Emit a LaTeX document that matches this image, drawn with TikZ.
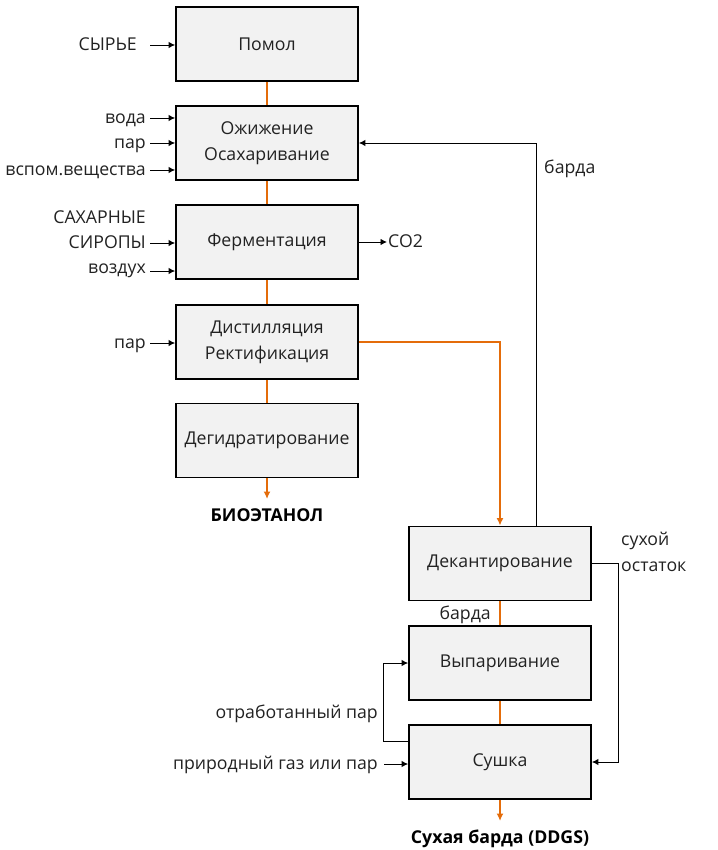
\documentclass[tikz,border=0pt]{standalone}
\usepackage{fontspec}
\setmainfont{Open Sans}
\usetikzlibrary{arrows.meta,calc}
\definecolor{orng}{RGB}{228,108,10}
\definecolor{boxfill}{RGB}{242,242,242}
\definecolor{txt}{RGB}{34,34,34}
\begin{document}
\begin{tikzpicture}[x=1pt,y=-1pt,
  font=\fontsize{17.7}{26}\selectfont, text=txt,
  proc/.style={draw=black, line width=1.8pt, fill=boxfill, minimum width=182pt,
    minimum height=74pt, align=center, inner sep=0pt},
  lab/.style={inner sep=0pt, text height=15pt, text depth=3.5pt},
  arr/.style={-{Latex[length=6.5pt,width=6.5pt]}, line width=0.9pt, draw=black},
  oline/.style={draw=orng, line width=1.8pt},
  oarr/.style={oline, -{Latex[length=7.5pt,width=7pt]}}]
\useasboundingbox (0,0) rectangle (717,850);

% process boxes
\node[proc] (pomol) at (267,44) {Помол};
\node[proc] (ozh) at (267,143) {Ожижение\\Осахаривание};
\node[proc] (ferm) at (267,242) {Ферментация};
\node[proc] (dist) at (267,342) {Дистилляция\\Ректификация};
\node[proc] (degid) at (267,440.5) {Дегидратирование};
\node[proc] (dek) at (500,563.5) {Декантирование};
\node[proc] (vyp) at (500,663) {Выпаривание};
\node[proc] (sush) at (500,762) {Сушка};

% left inputs
\node[lab, anchor=east] (syr) at (137,45) {СЫРЬЕ};
\node[lab, anchor=east] (voda) at (146,118) {вода};
\node[lab, anchor=east] (par1) at (146,143) {пар};
\node[lab, anchor=east] (vspom) at (146,170) {вспом.вещества};
\node[lab, anchor=east] (sah) at (146,218) {САХАРНЫЕ};
\node[lab, anchor=east] (sir) at (146,243) {СИРОПЫ};
\node[lab, anchor=east] (vozd) at (146,268) {воздух};
\node[lab, anchor=east] (par2) at (146,343) {пар};

\draw[arr] ([xshift=13pt]syr.east) -- (syr.east -| pomol.west);
\draw[arr] ([xshift=4pt]voda.east) -- (voda.east -| ozh.west);
\draw[arr] ([xshift=4pt]par1.east) -- (par1.east -| ozh.west);
\draw[arr] ([xshift=4pt]vspom.east) -- (vspom.east -| ozh.west);
\draw[arr] ([xshift=4pt]sir.east) -- (sir.east -| ferm.west);
\draw[arr] ([xshift=4pt,yshift=-3pt]vozd.east) -- ([yshift=-3pt]vozd.east -| ferm.west);
\draw[arr] ([xshift=4pt]par2.east) -- (par2.east -| dist.west);

% CO2
\node[lab, anchor=west] (co2) at (388,242) {CO2};
\draw[arr] (ferm.east) -- ([xshift=-1pt]co2.west);

% main orange flow
\draw[oline] (pomol.south) -- (ozh.north);
\draw[oline] (ozh.south) -- (ferm.north);
\draw[oline] (ferm.south) -- (dist.north);
\draw[oline] (dist.south) -- (degid.north);
\coordinate (bioend) at (267,499);
\draw[oarr] (degid.south) -- (bioend);
\node[lab, font=\fontsize{17.7}{26}\selectfont\bfseries, text=black] (bio) at (267,516) {БИОЭТАНОЛ};

\draw[oarr] (dist.east) -| (dek.north);

% barda feedback
\draw[arr] ([xshift=36pt]dek.north) |- (ozh.east);
\node[lab, anchor=west] (barda1) at (544,168) {барда};

% right column
\draw[oline] (dek.south) -- (vyp.north);
\node[lab, anchor=east] (barda2) at (491,614) {барда};
\draw[oline] (vyp.south) -- (sush.north);
\coordinate (ddgsend) at (500,821);
\draw[oarr] (sush.south) -- (ddgsend);
\node[lab, font=\fontsize{17.7}{26}\selectfont\bfseries, text=black] (ddgs) at (500,838) {Сухая барда (DDGS)};

% dry residue
\node[lab, anchor=west] (suh) at (621,540) {сухой};
\node[lab, anchor=west] (ost) at (621,566) {остаток};
\draw[arr] (dek.east) -- ++(27,0) |- (sush.east);

% exhaust steam loop
\node[lab, anchor=east] (otr) at (378,713) {отработанный пар};
\draw[arr] ([yshift=21pt]sush.west) -- ++(-25,0) |- (vyp.west);

% natural gas
\node[lab, anchor=east] (prir) at (378,764) {природный газ или пар};
\draw[arr] ([xshift=6pt]prir.east) -- (prir.east -| sush.west);
\end{tikzpicture}
\end{document}
